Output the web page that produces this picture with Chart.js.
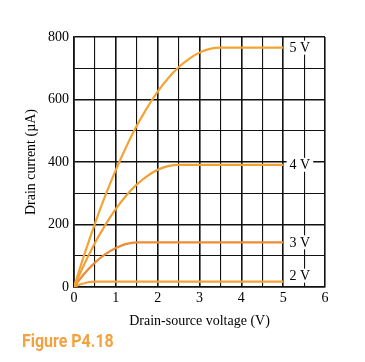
<!DOCTYPE html>
<html>
<head>
<meta charset="utf-8">
<script src="https://cdn.jsdelivr.net/npm/chart.js@4"></script>
<style>
  html, body { margin: 0; padding: 0; background: #fff; }
  #wrap { position: relative; width: 365px; height: 362px; }
</style>
</head>
<body>
<div id="wrap"><canvas id="fig" width="365" height="362"></canvas></div>
<script>
// Vds (V) / Id (uA), one curve per Vgs
const vgsLabels = ['5 V', '4 V', '3 V', '2 V'];
const vds5 = [0, 0.25, 0.5, 0.75, 1, 1.25, 1.5, 1.75, 2, 2.25, 2.5, 2.75, 3, 3.25, 3.5, 5];
const id5  = [0, 105, 203, 293, 375, 449, 516, 574, 625, 668, 703, 730, 750, 762, 766, 766];
const vds4 = [0, 0.25, 0.5, 0.75, 1, 1.25, 1.5, 1.75, 2, 2.25, 2.5, 5];
const id4  = [0, 74, 141, 199, 250, 293, 328, 355, 375, 387, 391, 391];
const vds3 = [0, 0.25, 0.5, 0.75, 1, 1.25, 1.5, 5];
const id3  = [0, 43, 78, 105, 125, 138, 143, 143];
const vds2 = [0, 0.125, 0.25, 0.375, 0.5, 5];
const id2  = [0, 7, 12, 16, 17, 17];
const xTicks = [0, 1, 2, 3, 4, 5, 6];
const yTicks = [0, 200, 400, 600, 800];

const serif = "'Liberation Serif', 'DejaVu Serif', serif";

function pts(xs, ys) {
  return xs.map((x, i) => ({x: x, y: ys[i]}));
}

const series = [
  {x: vds5, y: id5, color: '#f3a434'},
  {x: vds4, y: id4, color: '#f2a034'},
  {x: vds3, y: id3, color: '#ee8c36'},
  {x: vds2, y: id2, color: '#f2a23a'}
];

// curve name boxes, white behind so grid lines break around them
const curveLabels = {
  id: 'curveLabels',
  afterDatasetsDraw(chart) {
    const ctx = chart.ctx;
    const xs = chart.scales.x, ys = chart.scales.y;
    ctx.save();
    ctx.font = '14px ' + serif;
    ctx.textAlign = 'center';
    ctx.textBaseline = 'middle';
    series.forEach((s, i) => {
      const level = s.y[s.y.length - 1];
      const px = xs.getPixelForValue(5.4);
      let py = ys.getPixelForValue(level);
      if (i === 3) py -= 6;
      const w = ctx.measureText(vgsLabels[i]).width + 6;
      ctx.fillStyle = '#fff';
      ctx.fillRect(px - w / 2, py - 7, w, 14);
      ctx.fillStyle = '#000';
      ctx.fillText(vgsLabels[i], px, py + 1);
    });
    ctx.restore();
  },
  afterDraw(chart) {
    // caption under the plot, narrow bold orange
    const ctx = chart.ctx;
    ctx.save();
    ctx.font = "bold 19px 'Roboto', 'Liberation Sans', sans-serif";
    ctx.fillStyle = '#f2a23e';
    ctx.textBaseline = 'alphabetic';
    ctx.textAlign = 'left';
    ctx.translate(22, 347);
    ctx.scale(0.84, 1);
    ctx.fillText('Figure P4.18', 0, 0);
    ctx.restore();
  }
};

new Chart(document.getElementById('fig'), {
  type: 'line',
  data: {
    datasets: series.map((s, i) => ({
      label: vgsLabels[i],
      data: pts(s.x, s.y),
      borderColor: s.color,
      borderWidth: 2.2,
      pointRadius: 0,
      fill: false,
      cubicInterpolationMode: 'monotone'
    }))
  },
  options: {
    responsive: false,
    animation: false,
    devicePixelRatio: 1,
    layout: { padding: { top: 37, right: 40, left: 0, bottom: 0 } },
    plugins: { legend: { display: false }, tooltip: { enabled: false } },
    scales: {
      x: {
        type: 'linear',
        min: 0, max: 6,
        afterFit(scale) { scale.height = 75; },
        ticks: {
          stepSize: 0.5,
          autoSkip: false,
          maxRotation: 0,
          padding: 3,
          color: '#000',
          font: { family: serif, size: 14 },
          callback: v => xTicks.includes(v) ? String(v) : ''
        },
        grid: {
          color: '#111',
          lineWidth: c => (c.tick && Number.isInteger(c.tick.value)) ? 1.6 : 1.1,
          drawTicks: false
        },
        border: { color: '#111', width: 1.6 },
        title: {
          display: true,
          text: 'Drain-source voltage (V)',
          color: '#000',
          font: { family: serif, size: 14 },
          padding: { top: 0, bottom: 32 }
        }
      },
      y: {
        type: 'linear',
        min: 0, max: 800,
        afterFit(scale) { scale.width = 74; },
        ticks: {
          stepSize: 100,
          autoSkip: false,
          padding: 5,
          color: '#000',
          font: { family: serif, size: 14 },
          callback: v => yTicks.includes(v) ? String(v) : ''
        },
        grid: {
          color: '#111',
          lineWidth: c => (c.tick && c.tick.value % 200 === 0) ? 1.6 : 1.1,
          drawTicks: false
        },
        border: { color: '#111', width: 1.6 },
        title: {
          display: true,
          text: 'Drain current (\u00b5A)',
          color: '#000',
          font: { family: serif, size: 14 },
          padding: { top: 23, bottom: 0 }
        }
      }
    }
  },
  plugins: [curveLabels]
});
</script>
</body>
</html>
